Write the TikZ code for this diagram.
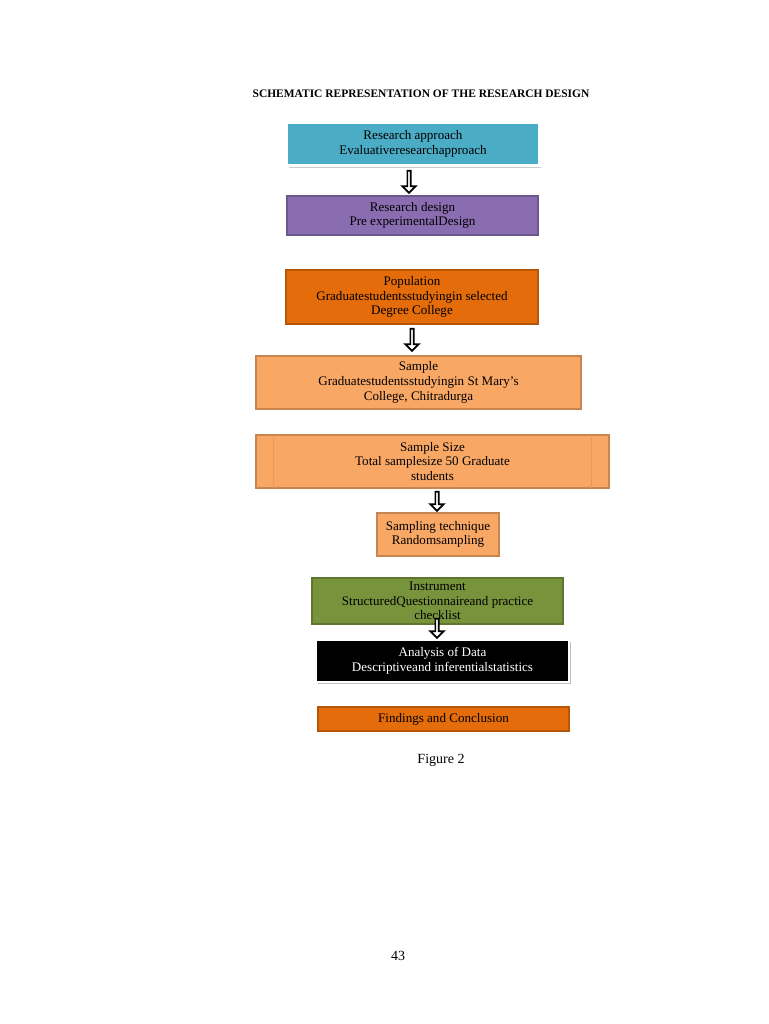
\documentclass[tikz,border=0pt]{standalone}
\usepackage{fontspec}
\setmainfont{Liberation Serif}
\usetikzlibrary{shapes.arrows}
\definecolor{cteal}{HTML}{4BACC6}
\definecolor{cpurp}{HTML}{8A6DB0}
\definecolor{corg}{HTML}{E46C0A}
\definecolor{clor}{HTML}{F9A765}
\definecolor{cgrn}{HTML}{77933C}
\tikzset{
  x=0.75pt,y=-0.75pt,
  box/.style={draw=#1!80!black, fill=#1, line width=0.8pt, inner sep=0pt, align=center, font=\fontsize{9.8}{11}\selectfont},
  harrow/.style={single arrow, draw=black, fill=white, line width=1.3pt, shape border rotate=270, minimum width=10pt, single arrow head extend=2pt, inner sep=0pt},
}
\newcommand{\bx}[7]{\node[box=#2, minimum width={(#5-#3)*0.75pt}, minimum height={(#6-#4)*0.75pt}] (#1) at ({(#3+#5)/2},{(#4+#6)/2}) {#7};}
\newcommand{\arw}[5]{\node[harrow, minimum height={(#4-#3)*0.75pt}] (#1) at (#2,{(#3+#4)/2}) {};}
\begin{document}
\begin{tikzpicture}
\fill[white] (0,0) rectangle (768,1024);
\useasboundingbox (0,0) rectangle (768,1024);
\node[font=\bfseries\fontsize{8.6}{10}\selectfont] (title) at (421,94) {SCHEMATIC REPRESENTATION OF THE RESEARCH DESIGN};
\fill[gray!40] (289,125) rectangle (541,168);
\bx{b1}{cteal}{287}{123}{539}{165}{Research approach\\Evaluativeresearchapproach}
\draw[white,line width=2pt] (b1.south west) rectangle (b1.north east);
\bx{b2}{cpurp}{287}{196}{538}{235}{Research design\\Pre experimentalDesign}
\bx{b3}{corg}{286}{270}{538}{324}{Population\\Graduatestudentsstudyingin selected\\Degree College}
\bx{b4}{clor}{256}{356}{581}{409}{Sample\\Graduatestudentsstudyingin St Mary’s\\College, Chitradurga}
\bx{b5}{clor}{256}{435}{609}{488}{Sample Size\\Total samplesize 50 Graduate\\students}
\draw[corg!70] (273,435) -- (273,488) (591,435) -- (591,488);
\bx{b6}{clor}{377}{513}{499}{556}{Sampling technique\\Randomsampling}
\bx{b7}{cgrn}{312}{578}{563}{624}{Instrument\\StructuredQuestionnaireand practice\\checklist}
\fill[gray!50] (318,642) rectangle (571,684);
\node[draw=white, line width=2pt, fill=black, text=white, minimum width={253*0.75pt}, minimum height={42*0.75pt}, inner sep=0pt, align=center, font=\fontsize{9.8}{11}\selectfont] (b8) at (442.5,661) {Analysis of Data\\Descriptiveand inferentialstatistics};
\bx{b9}{corg}{318}{707}{569}{731}{Findings and Conclusion}
\arw{a1}{409}{170}{192}
\arw{a2}{407}{238}{265}
\arw{a3}{412}{328}{350}
\arw{a4}{424}{414}{432}
\arw{a5}{437}{491}{510}
\arw{a6}{437}{559}{577}
\arw{a7}{437}{618}{637}
\arw{a8}{437}{686}{704}
\node[font=\fontsize{10.5}{12}\selectfont] (fig) at (441,760) {Figure 2};
\node[font=\fontsize{10.5}{12}\selectfont] (pg) at (398,956) {43};
\end{tikzpicture}
\end{document}
